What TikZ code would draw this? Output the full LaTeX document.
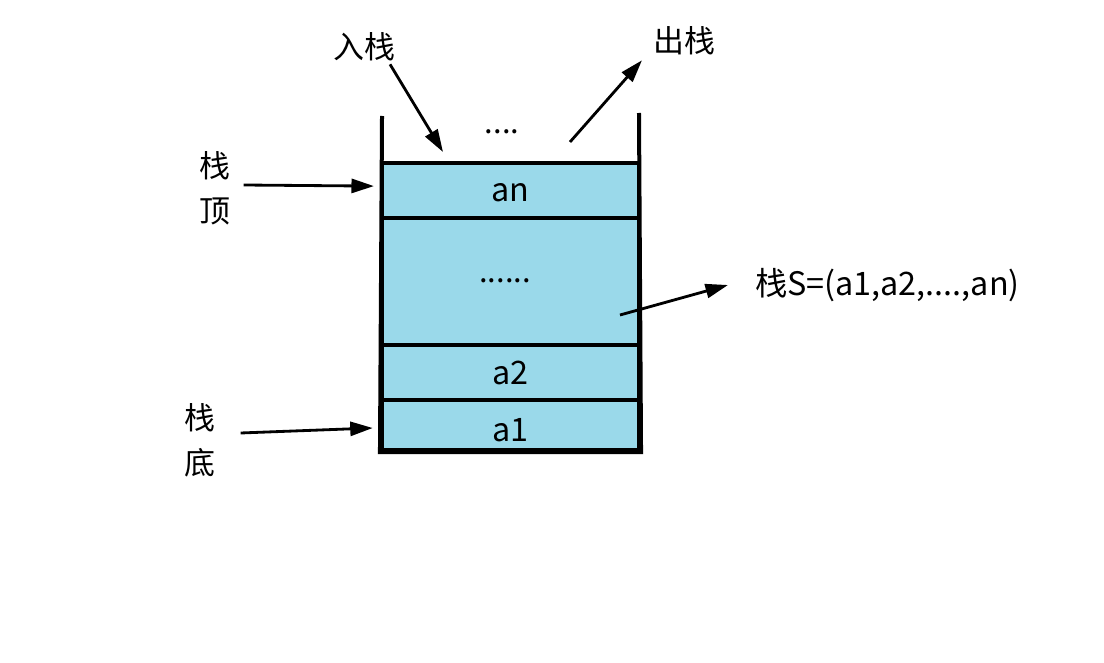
\documentclass[tikz,border=0pt]{standalone}
\usepackage{fontspec}
\setmainfont{Noto Sans CJK SC}
\usetikzlibrary{arrows.meta,positioning,calc}
\definecolor{stackblue}{RGB}{154,217,234}

\begin{document}
\begin{tikzpicture}[
  x=0.025cm, y=-0.025cm,
  cell/.style={
    rectangle, draw=black, fill=stackblue,
    line width=0.1cm, minimum width=6.425cm, inner sep=0pt,
    font=\fontsize{23}{26}\selectfont
  },
  lbl/.style={font=\fontsize{22}{32}\selectfont, align=center, inner sep=2pt},
  arr/.style={line width=2pt, -{Triangle[length=16pt,width=10pt]}},
  wall/.style={line width=0.1cm, line cap=rect}
]
\useasboundingbox[fill=white] (0,0) rectangle (1104,663);

% stack cells, bottom to top
\node[cell, minimum height=1.25cm]  (c1) at (510.5,425)   {\raisebox{-12pt}[0pt][0pt]{a1}};
\node[cell, minimum height=1.375cm] (c2) at (510.5,372.5) {a2};
\node[cell, minimum height=3.175cm] (cm) at (510.5,281.5) {};
\node[cell, minimum height=1.375cm] (cn) at (510.5,190.5) {\raisebox{-8pt}[0pt][0pt]{an}};
\node[lbl] (dm) at (505,281) {......};
\node[lbl] (dt) at (502,132) {....};

% walls
\coordinate (lt) at (382,118);
\coordinate (rt) at (639,115);
\draw[wall] (lt) -- (c1.south west) -- (c1.south east) -- (rt);

% labels
\node[lbl] (push) at (364,47)  {入栈};
\node[lbl] (pop)  at (684,41)  {出栈};
\node[lbl] (top)  at (215,188) {栈\\顶};
\node[lbl] (bot)  at (200,440) {栈\\底};
\node[lbl, anchor=west, font=\fontsize{23}{26}\selectfont] (S) at (752,285) {栈S=(a1,a2,....,an)};

\coordinate (pushTip) at (443,152);
\coordinate (popFoot) at (570,142);
\coordinate (sFoot)   at (620,315);

\draw[arr] ([xshift=-0.2cm]push.south east) -- (pushTip);
\draw[arr] (popFoot) -- ([xshift=-0.2cm,yshift=-0.05cm]pop.south west);
\draw[arr] (top.east) ++(0.25cm,0.075cm) -- ([xshift=-0.15cm,yshift=0.11cm]cn.west);
\draw[arr] (bot.east) ++(0.55cm,0.175cm) -- ([xshift=-0.18cm,yshift=-0.075cm]c1.west);
\draw[arr] (sFoot) -- ([xshift=-0.6cm]S.west);

\end{tikzpicture}
\end{document}
